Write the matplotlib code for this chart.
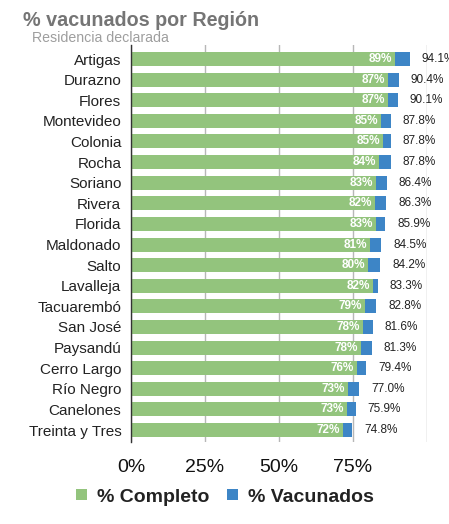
import matplotlib
matplotlib.use("Agg")
import matplotlib.pyplot as plt
from matplotlib.patches import Patch

plt.rcParams['font.family'] = ['Liberation Sans', 'DejaVu Sans']

regions = ["Artigas", "Durazno", "Flores", "Montevideo", "Colonia", "Rocha", "Soriano",
           "Rivera", "Florida", "Maldonado", "Salto", "Lavalleja", "Tacuarembó", "San José",
           "Paysandú", "Cerro Largo", "Río Negro", "Canelones", "Treinta y Tres"]
completo = [89.2, 86.8, 86.8, 84.6, 85.1, 83.8, 82.8, 82.4, 82.8, 80.7, 80.1, 81.6,
            79.1, 78.4, 77.6, 76.4, 73.3, 73.0, 71.6]
completo_labels = ["89%", "87%", "87%", "85%", "85%", "84%", "83%", "82%", "83%", "81%",
                   "80%", "82%", "79%", "78%", "78%", "76%", "73%", "73%", "72%"]
vacunados = [94.1, 90.4, 90.1, 87.8, 87.8, 87.8, 86.4, 86.3, 85.9, 84.5, 84.2, 83.3,
             82.8, 81.6, 81.3, 79.4, 77.0, 75.9, 74.8]
xticks = [0, 25, 50, 75, 100]
xtick_labels = ["0%", "25%", "50%", "75%", ""]

GREEN = "#93c47d"
BLUE = "#3d85c6"

W, H = 449, 524
fig = plt.figure(figsize=(W / 100, H / 100), dpi=100)
ax = fig.add_axes([131 / W, 1 - 442 / H, (427 - 131) / W, (442 - 45) / H])

y = list(range(len(regions)))
ax.barh(y, [v / 100 for v in vacunados], height=0.68, color=BLUE, zorder=2)
ax.barh(y, [c / 100 for c in completo], height=0.68, color=GREEN, zorder=3)

for i in y:
    ax.annotate(completo_labels[i], xy=(completo[i] / 100, i), xytext=(-3, 0),
                textcoords="offset pixels", ha="right", va="center",
                color="white", fontsize=8.5, fontweight="bold", zorder=4)
    ax.annotate(f"{vacunados[i]:.1f}%", xy=(vacunados[i] / 100, i), xytext=(12, 0),
                textcoords="offset pixels", ha="left", va="center",
                color="#222222", fontsize=8.5, zorder=4, annotation_clip=False)

ax.set_xlim(0, 1.0)
ax.set_ylim(18.58, -0.68)
ax.set_xticks([t / 100 for t in xticks])
ax.set_xticklabels(xtick_labels, fontsize=14, color="#111111")
ax.set_yticks(y)
ax.set_yticklabels(regions, fontsize=11, color="#222222")
ax.tick_params(axis="x", length=0, pad=12)
ax.tick_params(axis="y", length=0, pad=7)
ax.grid(axis="x", color="#b7b7b7", linewidth=1, zorder=0)
ax.set_axisbelow(True)
for s in ["top", "right", "bottom"]:
    ax.spines[s].set_visible(False)
ax.spines["left"].set_color("#333333")
ax.spines["left"].set_linewidth(1)
ax.spines["left"].set_zorder(5)

fig.text(23 / W, 1 - 20 / H, "% vacunados por Región", fontsize=14.2, fontweight="bold",
         color="#757575", ha="left", va="center")
fig.text(32 / W, 1 - 38 / H, "Residencia declarada", fontsize=10.2,
         color="#9e9e9e", ha="left", va="center")

handles = [Patch(facecolor=GREEN, edgecolor="none", label="% Completo"),
           Patch(facecolor=BLUE, edgecolor="none", label="% Vacunados")]
fig.legend(handles=handles, loc="center", bbox_to_anchor=(225 / W, 1 - 497 / H), ncol=2,
           frameon=False, prop={"size": 14, "weight": "bold"}, handlelength=0.55,
           handleheight=0.55, handletextpad=0.5, columnspacing=0.95, labelcolor="#222222")

fig.savefig("out.png", dpi=100)
